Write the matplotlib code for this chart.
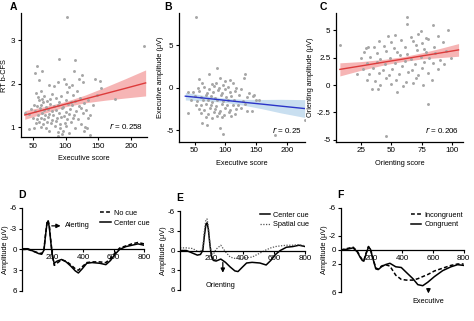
import numpy as np
import matplotlib
matplotlib.use("Agg")
import matplotlib.pyplot as plt

plt.rcParams['font.family'] = ['Liberation Sans', 'DejaVu Sans']
plt.rcParams['axes.unicode_minus'] = False

# --- Panel A: executive score vs RT b-CFS ---
exec_a = [102, 219, 90, 115, 57, 64, 53, 113, 125, 145, 152, 176, 154, 138, 133, 88, 95, 45, 52, 38,
          59, 97, 89, 121, 126, 100,
          75, 82, 105, 110,
          55, 102, 80, 118, 62,
          58, 64, 68, 85, 93, 112, 122, 148,
          60, 66, 72, 77, 90, 100, 108, 115, 128, 135,
          52, 56, 63, 70, 76, 83, 88, 96, 104, 110, 120, 142,
          48, 54, 61, 67, 73, 79, 86, 94, 101, 107, 116, 124, 131,
          45, 58, 64, 69, 75, 81, 90, 98, 105, 113, 127, 138,
          50, 57, 62, 68, 74, 80, 87, 93, 102, 111, 119, 134,
          55, 60, 66, 72, 78, 85, 91, 99, 108, 123,
          63, 70, 84, 92, 100, 115, 130,
          75, 88, 96, 106, 128]
rt_a = [3.53, 2.87, 2.58, 2.56, 2.41, 2.29, 2.25, 2.29, 2.20, 2.12, 2.07, 1.65, 1.90, 0.82, 0.97, 0.80, 0.85, 0.95, 0.97, 1.32,
        2.08, 2.10, 2.05, 2.12, 2.03, 2.00,
        1.97, 1.94, 1.92, 1.98,
        1.79, 1.80, 1.76, 1.83, 1.84,
        1.70, 1.66, 1.72, 1.68, 1.71, 1.74, 1.67, 1.73,
        1.62, 1.58, 1.61, 1.64, 1.57, 1.63, 1.59, 1.60, 1.56, 1.62,
        1.50, 1.48, 1.52, 1.47, 1.53, 1.49, 1.51, 1.46, 1.54, 1.50, 1.48, 1.52,
        1.41, 1.38, 1.43, 1.39, 1.42, 1.37, 1.40, 1.44, 1.36, 1.41, 1.38, 1.43, 1.40,
        1.30, 1.28, 1.32, 1.27, 1.31, 1.29, 1.33, 1.26, 1.30, 1.28, 1.32, 1.29,
        1.21, 1.18, 1.22, 1.19, 1.23, 1.17, 1.20, 1.24, 1.18, 1.21, 1.19, 1.22,
        1.10, 1.12, 1.08, 1.11, 1.09, 1.13, 1.07, 1.10, 1.12, 1.08,
        1.01, 0.98, 1.02, 0.99, 1.03, 0.97, 1.00,
        0.90, 0.88, 0.92, 0.87, 0.91]
fit_x_a = [38, 70, 100, 130, 160, 190, 222]
fit_y_a = [1.28, 1.41, 1.53, 1.65, 1.77, 1.89, 2.02]
lo_a = [1.18, 1.33, 1.47, 1.56, 1.62, 1.67, 1.72]
hi_a = [1.38, 1.48, 1.59, 1.74, 1.92, 2.11, 2.32]

# --- Panel B: executive score vs executive amplitude ---
exec_b = [52, 87, 73, 132, 181, 229, 97, 92, 70, 62, 40, 155, 146, 143, 136, 40,
          57, 92, 100, 107, 130,
          62, 78, 85, 96, 112,
          55, 66, 74, 82, 90, 99, 104, 118, 125,
          47, 58, 70, 80, 88, 95, 108, 115, 138,
          50, 60, 68, 76, 84, 93, 101, 110, 122, 135, 145,
          45, 54, 63, 72, 79, 87, 96, 105, 114, 128, 150,
          52, 61, 69, 77, 85, 94, 102, 112, 120, 132,
          57, 66, 75, 83, 91, 99, 108, 117, 126,
          60, 72, 81, 89, 98, 106, 115,
          68, 78, 87, 95, 110]
amp_b = [8.4, 2.3, 1.6, 1.6, -5.6, -3.85, -5.5, -4.8, -4.4, -4.2, -3.0, -1.5, -0.9, -2.7, -2.8, -0.5,
         1.0, 1.1, 0.8, 0.9, 1.2,
         0.5, 0.4, 0.6, 0.3, 0.5,
         0.0, 0.1, -0.1, 0.2, 0.0, -0.2, 0.1, 0.0, -0.1,
         -0.5, -0.4, -0.6, -0.5, -0.3, -0.6, -0.5, -0.4, -0.6,
         -1.0, -1.1, -0.9, -1.0, -1.2, -0.9, -1.1, -1.0, -0.9, -1.1, -1.0,
         -1.5, -1.6, -1.4, -1.5, -1.7, -1.4, -1.6, -1.5, -1.4, -1.6, -1.5,
         -2.0, -2.1, -1.9, -2.0, -2.2, -1.9, -2.1, -2.0, -2.1, -1.9,
         -2.5, -2.6, -2.4, -2.5, -2.7, -2.4, -2.6, -2.5, -2.4,
         -3.0, -3.1, -2.9, -3.0, -3.2, -2.9, -3.1,
         -3.5, -3.6, -3.4, -3.5, -3.3]
fit_x_b = [35, 70, 100, 130, 160, 190, 229]
fit_y_b = [-1.00, -1.26, -1.49, -1.72, -1.94, -2.17, -2.46]
lo_b = [-1.45, -1.56, -1.74, -2.07, -2.49, -2.97, -3.51]
hi_b = [-0.55, -0.96, -1.24, -1.37, -1.39, -1.37, -1.41]

# --- Panel C: orienting score vs orienting amplitude ---
orient_c = [45.6, 80, 8, 62.5, 63, 84, 96, 39, 34, 55, 22, 29, 31, 74,
            47, 53, 66, 72, 78, 88,
            40, 50, 58, 68, 75, 80, 92,
            36, 44, 52, 61, 70, 77, 85,
            28, 38, 46, 55, 63, 71, 78, 86, 95,
            25, 33, 41, 49, 57, 66, 74, 81, 90, 99,
            30, 38, 45, 53, 61, 69, 77, 84, 93,
            27, 35, 43, 51, 59, 67, 75, 88,
            32, 40, 48, 56, 64, 72, 80,
            30, 37, 46, 54, 62, 70, 83,
            41, 50, 60, 68, 76]
amp_c = [-4.65, -1.7, 3.7, 6.2, 5.6, 5.5, 5.0, -0.4, -0.4, -0.6, 1.0, 3.4, 3.5, 4.9,
         4.5, 4.6, 4.4, 4.7, 4.3, 4.5,
         4.0, 3.9, 4.1, 4.0, 3.8, 4.2, 3.9,
         3.5, 3.6, 3.4, 3.5, 3.7, 3.3, 3.5,
         3.0, 2.9, 3.1, 3.0, 2.8, 3.2, 3.0, 2.9, 3.1,
         2.5, 2.6, 2.4, 2.5, 2.7, 2.4, 2.6, 2.5, 2.3, 2.5,
         2.0, 2.1, 1.9, 2.0, 2.2, 1.9, 2.1, 2.0, 1.9,
         1.5, 1.6, 1.4, 1.5, 1.7, 1.4, 1.6, 1.5,
         1.0, 1.1, 0.9, 1.0, 1.2, 0.9, 1.1,
         0.5, 0.4, 0.6, 0.5, 0.3, 0.6, 0.5,
         0.0, 0.1, -0.1, 0.2, 0.0]
fit_x_c = [8, 25, 45, 60, 75, 90, 105]
fit_y_c = [1.43, 1.74, 2.11, 2.38, 2.66, 2.93, 3.21]
lo_c = [0.83, 1.34, 1.86, 2.16, 2.38, 2.51, 2.63]
hi_c = [2.03, 2.14, 2.36, 2.60, 2.94, 3.35, 3.79]

# --- ERP waveforms (D, E) ---
t_de = [0, 40, 80, 110, 130, 145, 155, 165, 172, 180, 190, 200, 212, 230, 260, 290,
        320, 350, 370, 395, 425, 460, 510, 550, 580, 610, 640, 680, 720, 760, 800]
center_d = [-0.1, -0.1, 0.3, 0.6, 0.7, 0.1, -2.0, -3.8, -4.1, -3.2, -1.0, 1.0, 2.0, 1.7, 1.45, 1.8,
            2.4, 3.1, 3.4, 2.8, 2.0, 1.9, 2.0, 2.2, 1.6, 0.7, 0.0, -0.4, -0.6, -0.8, -0.6]
nocue_d = [0.0, 0.0, 0.3, 0.5, 0.6, 0.0, -2.1, -3.9, -4.2, -3.4, -1.2, 0.8, 2.3, 2.0, 1.5, 1.7,
           2.2, 2.8, 3.0, 2.5, 1.9, 1.8, 1.8, 1.9, 1.3, 0.5, -0.2, -0.5, -0.8, -1.0, -0.8]
center_e = [0.0, 0.0, 0.4, 0.7, 0.6, 0.0, -2.2, -4.0, -4.2, -3.3, -1.0, 0.9, 1.5, 1.6, 1.3, 1.8,
            2.5, 3.1, 3.2, 2.6, 1.9, 1.8, 1.9, 2.2, 1.5, 0.6, 0.0, -0.5, -0.6, -0.8, -0.6]
spatial_e = [-0.4, -0.4, -0.3, 0.1, 0.2, -0.5, -3.0, -4.7, -4.8, -3.8, -1.2, 0.5, 0.6, -0.2, -0.8, 0.2,
             1.0, 1.2, 1.2, 1.2, 1.1, 1.0, 0.4, -0.1, -0.4, -0.6, -0.7, -0.8, -0.8, -0.9, -0.7]

# --- ERP waveforms (F) ---
t_f = [0, 40, 80, 108, 125, 140, 150, 164, 180, 192, 207, 228, 244, 265, 290, 320, 358, 394,
       427, 470, 502, 534, 567, 610, 664, 718, 761, 800]
congr_f = [0.0, -0.1, -0.3, 0.3, 1.0, 1.5, 1.6, 0.6, -0.4, -0.15, 1.05, 2.7, 2.8, 2.4, 2.1, 1.9, 2.4, 2.5,
           3.2, 4.1, 4.95, 5.1, 4.6, 3.8, 2.95, 2.4, 2.1, 2.2]
incongr_f = [0.0, -0.2, -0.4, 0.2, 0.9, 1.4, 1.5, 0.5, -0.5, -0.2, 1.0, 2.6, 2.7, 2.3, 2.1, 2.3, 3.6, 4.2,
             4.3, 4.3, 4.1, 3.8, 3.5, 3.0, 2.6, 2.2, 2.0, 2.0]

TICK = 5.8
LAB = 5.3
LET = 7.5
GREY = '#a6a6a6'

fig = plt.figure(figsize=(4.74, 3.21), dpi=100)

def style_top(ax):
    for s in ['top', 'right']:
        ax.spines[s].set_visible(False)
    for s in ['left', 'bottom']:
        ax.spines[s].set_linewidth(0.9)
    ax.tick_params(direction='out', length=2.5, width=0.8, labelsize=TICK, pad=1.5)

def scatter_panel(rect, x, y, fx, fy, lo, hi, line_col, band_col, xlim, ylim,
                  xticks, yticks, ylabel, xlabel, rtext, letter, letter_x):
    ax = fig.add_axes(rect)
    ax.scatter(x, y, s=4.5, color=GREY, linewidths=0, zorder=2)
    ax.fill_between(fx, lo, hi, color=band_col, linewidth=0, zorder=1)
    ax.plot(fx, fy, color=line_col, lw=1.0, zorder=3)
    ax.set_xlim(xlim)
    ax.set_ylim(ylim)
    ax.set_xticks(xticks)
    ax.set_yticks(yticks)
    style_top(ax)
    ax.set_ylabel(ylabel, fontsize=LAB, labelpad=2)
    ax.set_xlabel(xlabel, fontsize=LAB, labelpad=4)
    ax.text(0.97, 0.05, rtext, transform=ax.transAxes, ha='right', va='bottom', fontsize=TICK)
    fig.text(letter_x / 474, 1 - 1.5 / 321, letter, fontsize=LET, fontweight='bold',
             ha='left', va='top')
    return ax

scatter_panel([0.044, 0.573, 0.266, 0.386], exec_a, rt_a, fit_x_a, fit_y_a, lo_a, hi_a,
              '#dd3b3b', '#f6b5b5', (32, 224), (0.77, 3.63), [50, 100, 150, 200], [1, 2, 3],
              'RT b-CFS', 'Executive score', '$r$ = 0.258', 'A', 10)
axb = scatter_panel([0.378, 0.558, 0.266, 0.402], exec_b, amp_b, fit_x_b, fit_y_b, lo_b, hi_b,
                    '#2b35c8', '#c9dff0', (25, 230), (-6.4, 8.85), [50, 100, 150, 200], [-5, 0, 5],
                    'Executive amplitude (μV)', 'Executive score', '$r$ = 0.25', 'B', 164)
axc = scatter_panel([0.709, 0.558, 0.268, 0.402], orient_c, amp_c, fit_x_c, fit_y_c, lo_c, hi_c,
                    '#dd3b3b', '#f6b5b5', (4.9, 108.7), (-5.2, 6.6), [25, 50, 75, 100],
                    [-5, -2.5, 0, 2.5, 5], 'Orienting amplitude (μV)', 'Orienting score',
                    '$r$ = 0.206', 'C', 320)
axc.set_yticklabels(['-5', '-2.5', '0', '2.5', '5'])

def erp_panel(rect, yticks, letter):
    ax = fig.add_axes(rect)
    ax.set_xlim(0, 800)
    ax.set_ylim(6, -6)
    ax.set_xticks([200, 400, 600, 800])
    ax.set_yticks(yticks)
    ax.spines['top'].set_visible(False)
    ax.spines['right'].set_visible(False)
    ax.spines['bottom'].set_position(('data', 0))
    ax.spines['bottom'].set_linewidth(0.9)
    ax.spines['left'].set_linewidth(0.9)
    ax.tick_params(direction='out', length=2.5, width=0.8, labelsize=TICK, pad=1)
    ax.set_ylabel('Amplitude (μV)', fontsize=LAB, labelpad=0.5)
    ax.text(-0.03, 1.1, letter, transform=ax.transAxes, fontsize=LET, fontweight='bold',
            ha='left', va='bottom')
    return ax

# D
axd = erp_panel([0.046, 0.0935, 0.258, 0.259], [-6, -3, 0, 3, 6], 'D')
axd.plot(t_de, nocue_d, color='black', lw=1.1, ls=(0, (2.5, 1.5)), label='No cue')
axd.plot(t_de, center_d, color='black', lw=1.1, label='Center cue')
axd.annotate('', xy=(272, -3.4), xytext=(178, -3.4),
             arrowprops=dict(arrowstyle='-|>', color='black', lw=0.9, mutation_scale=6))
axd.text(282, -3.4, 'Alerting', fontsize=LAB, va='center', ha='left')
axd.legend(loc='upper left', bbox_to_anchor=(0.6, 1.04), frameon=False, fontsize=LAB,
           handlelength=1.4, handletextpad=0.4, labelspacing=0.35, borderpad=0.2)

# E
axe = erp_panel([0.380, 0.0966, 0.264, 0.246], [-6, -3, 0, 3, 6], 'E')
axe.plot(t_de, center_e, color='black', lw=1.1, label='Center cue')
axe.plot(t_de, spatial_e, color='#555555', lw=0.9, ls=(0, (1, 1.2)), label='Spatial cue')
axe.annotate('', xy=(273, 3.8), xytext=(273, 1.4),
             arrowprops=dict(arrowstyle='-|>', color='black', lw=0.9, mutation_scale=6))
axe.text(256, 5.3, 'Orienting', fontsize=LAB, va='center', ha='center')
axe.legend(loc='upper left', bbox_to_anchor=(0.6, 1.06), frameon=False, fontsize=LAB,
           handlelength=1.3, handletextpad=0.4, labelspacing=0.35, borderpad=0.2)

# F
axf = erp_panel([0.719, 0.0903, 0.259, 0.262], [-6, -2, 0, 2, 6], 'F')
axf.plot(t_f, incongr_f, color='black', lw=1.1, ls=(0, (2.5, 1.5)), label='Incongruent')
axf.plot(t_f, congr_f, color='black', lw=1.1, label='Congruent')
axf.annotate('', xy=(571, 6.6), xytext=(571, 5.1), annotation_clip=False,
             arrowprops=dict(arrowstyle='-|>', color='black', lw=0.9, mutation_scale=6))
axf.text(571, 7.4, 'Executive', fontsize=LAB, va='center', ha='center', clip_on=False)
axf.legend(loc='upper left', bbox_to_anchor=(0.53, 1.02), frameon=False, fontsize=LAB,
           handlelength=1.4, handletextpad=0.4, labelspacing=0.35, borderpad=0.2)

fig.savefig('out.png', dpi=100)
